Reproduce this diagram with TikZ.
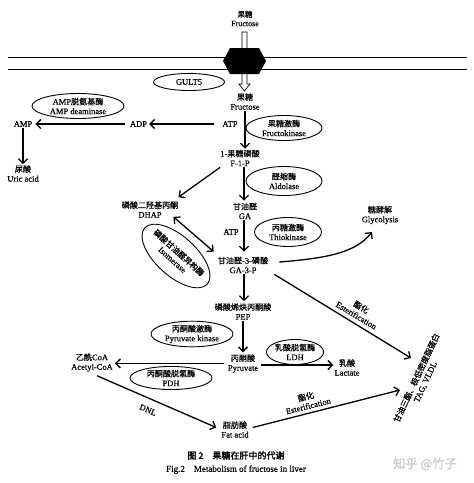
\documentclass[tikz,border=0pt]{standalone}
\usepackage{fontspec}
\setmainfont{Liberation Serif}[FakeBold=0.3]
\newfontfamily\cjk[Scale=0.95,FakeBold=0.3]{Noto Sans CJK SC}
\newfontfamily\cjkb[FakeBold=1.8]{Noto Sans CJK SC}
\usetikzlibrary{arrows.meta,shapes.geometric,calc}
\tikzset{
  lbl/.style={align=center,inner sep=1pt,font=\fontsize{8.5}{9.5}\selectfont},
  enz/.style={draw,ellipse,line width=0.9pt,inner sep=0pt,align=center,font=\fontsize{8.5}{9.5}\selectfont},
  arr/.style={draw,line width=1.3pt,-{Straight Barb[length=4.5pt,width=9pt]}},
  darr/.style={draw,line width=1.3pt,{Straight Barb[length=4.5pt,width=9pt]}-{Straight Barb[length=4.5pt,width=9pt]}},
  membrane/.style={line width=0.8pt},
}
\begin{document}
\begin{tikzpicture}[x=1pt,y=-1pt]
\useasboundingbox (0,0) rectangle (474,483);
\fill[white] (0,0) rectangle (474,483);

% membrane
\draw[membrane] (8,57) -- (467,57);
\draw[membrane] (8,69) -- (467,69);

% text nodes
\node[lbl,font=\fontsize{8}{9}\selectfont] (fru1) at (245,18.5) {{\cjk 果糖}\\Fructose};
\node[lbl] (fru2) at (245,101.5) {{\cjk 果糖}\\Fructose};
\node[lbl] (atp1) at (230,124) {ATP};
\node[lbl] (adp) at (138.5,124) {ADP};
\node[lbl] (amp) at (23,124) {AMP};
\node[lbl] (uric) at (23,173.5) {{\cjk 尿酸}\\Uric acid};
\node[lbl] (f1p) at (240,158) {1-{\cjk 果糖磷酸}\\F-1-P};
\node[lbl] (dhap) at (150,209.5) {{\cjk 磷酸二羟基丙酮}\\DHAP};
\node[lbl] (ga) at (245,211) {{\cjk 甘油醛}\\GA};
\node[lbl] (atp2) at (231,232) {ATP};
\node[lbl] (glyc) at (380,215) {{\cjk 糖酵解}\\Glycolysis};
\node[lbl] (ga3p) at (243,265) {{\cjk 甘油醛}-3-{\cjk 磷酸}\\GA-3-P};
\node[lbl] (pep) at (243,311.5) {{\cjk 磷酸烯炔丙酮酸}\\PEP};
\node[lbl] (pyr) at (243,363.5) {{\cjk 丙酮酸}\\Pyruvate};
\node[lbl] (lac) at (347,367.5) {{\cjk 乳酸}\\Lactate};
\node[lbl] (acoa) at (92,362.5) {{\cjk 乙酰}CoA\\Acetyl-CoA};
\node[lbl] (fat) at (235,429.5) {{\cjk 脂肪酸}\\Fat acid};
\node[lbl,rotate=65] (tag) at (421,380) {{\cjk 甘油三酯、极低密度脂蛋白}\\TAG, VLDL};
\coordinate (tagA) at (411,358);
\coordinate (tagB) at (400,390);
\coordinate (glyend) at (372,232);

% enzymes
\node[enz,minimum width=71pt,minimum height=17pt] (gult) at (189,82) {GULT5};
\node[enz,minimum width=92pt,minimum height=25pt] (ampd) at (78,106) {AMP{\cjk 脱氨基酶}\\AMP deaminase};
\node[enz,minimum width=76pt,minimum height=25pt] (fk) at (284,128) {{\cjk 果糖激酶}\\Fructokinase};
\node[enz,minimum width=76pt,minimum height=29pt] (ald) at (284,181) {{\cjk 醛缩酶}\\Aldolase};
\node[enz,minimum width=67pt,minimum height=29pt] (tk) at (288,232) {{\cjk 丙糖激酶}\\Thiokinase};
\node[enz,minimum width=84pt,minimum height=40pt,inner xsep=-4pt,rotate=-42] (iso) at (176,256) {{\cjk 磷酸甘油醛异构酶}\\Isomerase};
\node[enz,minimum width=82pt,minimum height=25pt] (pk) at (192,334) {{\cjk 丙酮酸激酶}\\Pyruvate kinase};
\node[enz,minimum width=56pt,minimum height=25pt] (ldh) at (295,352) {{\cjk 乳酸脱氢酶}\\LDH};
\node[enz,minimum width=82pt,minimum height=21pt] (pdh) at (171,378) {{\cjk 丙酮酸脱氢酶}\\PDH};

% hollow transport arrow and transporter
\draw[line width=0.7pt,fill=white] (242,32) -- (247,32) -- (247,84) -- (250,84) -- (244.5,91) -- (239,84) -- (242,84) -- cycle;
\fill[black] (230,48) -- (259,48) -- (266,61) -- (259,74) -- (230,74) -- (223,61) -- cycle;

% connectors
\draw[arr,shorten <=7pt,shorten >=1pt] (atp1.west) -- (adp.east);
\draw[arr,shorten <=4pt,shorten >=2pt] (adp.west) -- (amp.east);
\draw[arr] (amp.south) -- (amp.south |- uric.north);
\draw[arr] (fru2.south) -- (fru2.south |- f1p.north);
\draw[arr] ($(ga.north |- f1p.south)+(-1,0)$) -- ($(ga.north)+(-1,-1)$);
\draw[arr] ($(f1p.south west)+(1,0)$) -- ($(dhap.north east)+(-1,-3)$);
\draw[arr,shorten >=4pt] ($(ga.south)+(-1,0)$) -- ($(ga.south |- ga3p.north)+(-1,0)$);
\draw[darr] ($(dhap.south east)+(-6,-2)$) -- ($(ga3p.north west)+(-3,-4)$);
\draw[arr] ($(ga3p.south)+(1,0)$) -- ($(ga3p.south |- pep.north)+(1,-1)$);
\draw[arr] (pep.south) -- ($(pep.south |- pyr.north)+(0,-1)$);
\draw[arr] ($(pyr.east)+(2,1.5)$) -- ($(lac.west |- pyr.east)+(0,1.5)$);
\draw[arr,shorten <=3pt] (pyr.west) -- ($(acoa.east |- pyr.west)+(1,0)$);
\draw[arr] ($(acoa.south)+(5,3)$) -- ($(fat.west)+(-4,-2)$);
\draw[arr] ($(fat.east)+(3,-2)$) -- (tagB);
\draw[arr] ($(ga3p.south east)+(5,0)$) -- (tagA);
\draw[arr] ($(ga3p.east)+(10,-3)$) .. controls (330,258) and (356,252) .. (glyend);

% arrow labels
\node[lbl,rotate=-31] (est1) at (359,311) {{\cjk 酯化}\\Esterification};
\node[lbl,rotate=14] (est2) at (307,401) {{\cjk 酯化}\\Esterification};
\node[lbl,rotate=-24] (dnl) at (148,410) {DNL};

% caption
\node[inner sep=0pt,align=center,font=\fontsize{9}{13}\selectfont] (cap) at (236,462.5) {{\cjkb 图 2\quad 果糖在肝中的代谢}\\Fig.2\quad Metabolism of fructose in liver};
\node[inner sep=0pt,text=black!22,font=\fontsize{13}{14}\selectfont] (wm) at (425,464) {{\cjk 知乎 @竹子}};
\end{tikzpicture}
\end{document}
